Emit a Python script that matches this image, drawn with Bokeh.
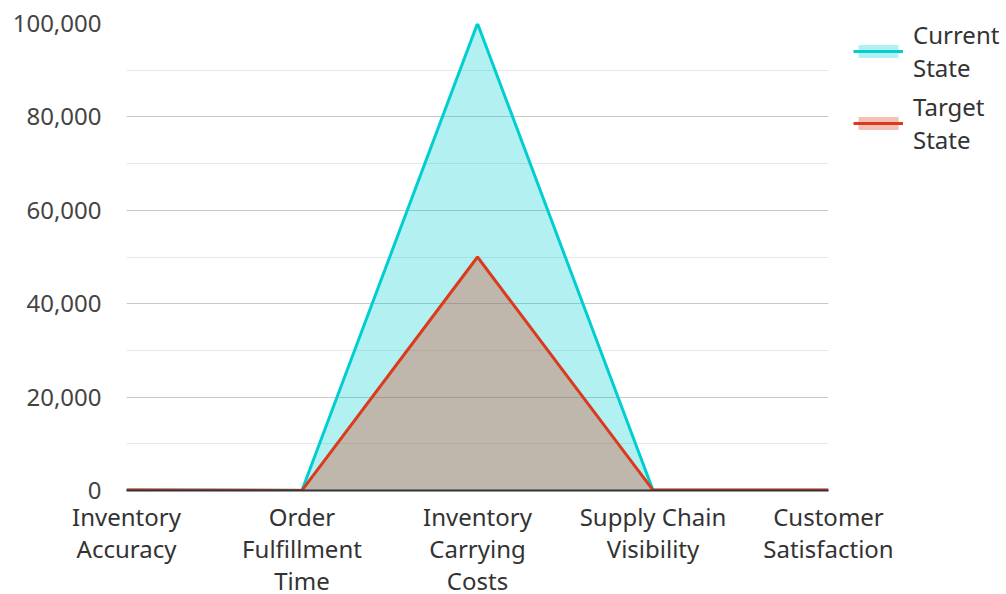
from bokeh.plotting import figure
from bokeh.models import FixedTicker, NumeralTickFormatter, Legend, LegendItem, Range1d, ColumnDataSource
from bokeh.embed import file_html
from bokeh.resources import INLINE

categories = ["Inventory\nAccuracy", "Order\nFulfillment\nTime", "Inventory\nCarrying\nCosts", "Supply Chain\nVisibility", "Customer\nSatisfaction"]
current_state = [85, 48, 100000, 60, 80]
target_state = [95, 24, 50000, 90, 90]
y_ticks = [0, 20000, 40000, 60000, 80000, 100000]

xs = list(range(len(categories)))
src = ColumnDataSource(dict(x=xs, cur=current_state, tgt=target_state, zero=[0]*len(xs)))

FONT = "Noto Sans"
p = figure(frame_width=702, frame_height=467, output_backend="svg", toolbar_location=None,
           x_range=Range1d(0, len(categories) - 1), y_range=Range1d(0, 100000),
           min_border_left=126, min_border_top=23, min_border_bottom=104, min_border_right=0)
p.outline_line_color = None

cur_area = p.varea(x="x", y1="zero", y2="cur", source=src, fill_color="#00CED1", fill_alpha=0.3)
cur_line = p.line(x="x", y="cur", source=src, line_color="#00CED1", line_width=3)
tgt_area = p.varea(x="x", y1="zero", y2="tgt", source=src, fill_color="#DC3A1C", fill_alpha=0.32)
tgt_line = p.line(x="x", y="tgt", source=src, line_color="#DC3A1C", line_width=3)

p.xaxis.ticker = FixedTicker(ticks=xs)
p.xaxis.major_label_overrides = {i: c for i, c in enumerate(categories)}
p.xaxis.major_tick_line_color = None
p.xaxis.minor_tick_line_color = None
p.xaxis.axis_line_color = "#333333"
p.xaxis.axis_line_width = 2
p.xaxis.major_label_text_font = FONT
p.xaxis.major_label_text_font_size = "24px"
p.xaxis.major_label_text_color = "#333333"
p.xaxis.major_label_text_line_height = 0.98
p.xaxis.major_label_standoff = 3

p.yaxis.ticker = FixedTicker(ticks=y_ticks, minor_ticks=list(range(0, 100001, 10000)))
p.yaxis.formatter = NumeralTickFormatter(format="0,0")
p.yaxis.axis_line_color = None
p.yaxis.major_tick_line_color = None
p.yaxis.minor_tick_line_color = None
p.yaxis.major_label_text_font = FONT
p.yaxis.major_label_text_font_size = "24px"
p.yaxis.major_label_text_color = "#444444"
p.yaxis.major_label_standoff = 19

p.xgrid.grid_line_color = None
p.ygrid.grid_line_color = "#c8c8c8"
p.ygrid.grid_line_width = 1
p.ygrid.minor_grid_line_color = "#e8e8e8"

legend = Legend(items=[LegendItem(label="Current\nState", renderers=[cur_area, cur_line]),
                       LegendItem(label="Target\nState", renderers=[tgt_area, tgt_line])],
                location=(25, 334), border_line_color=None, background_fill_alpha=0,
                label_text_font=FONT, label_text_font_size="24px", label_text_color="#333333",
                glyph_width=50, glyph_height=16, spacing=6, padding=0, margin=0,
                label_standoff=10)
p.add_layout(legend, "right")

open("out.html", "w").write(file_html(p, INLINE))
